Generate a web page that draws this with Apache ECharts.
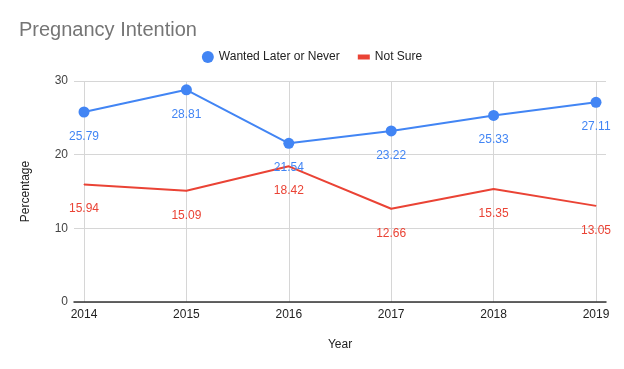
<!DOCTYPE html>
<html>
<head>
<meta charset="utf-8">
<script src="https://cdn.jsdelivr.net/npm/echarts@6/dist/echarts.min.js"></script>
<style>
html,body{margin:0;padding:0;background:#fff;}
#chart{width:624px;height:369px;}
</style>
</head>
<body>
<div id="chart"></div>
<script>
const years = ['2014', '2015', '2016', '2017', '2018', '2019'];
const wantedLater = [25.79, 28.81, 21.54, 23.22, 25.33, 27.11];
const notSure = [15.94, 15.09, 18.42, 12.66, 15.35, 13.05];
const yTicks = { min: 0, max: 30, interval: 10 };

const FONT = '"Liberation Sans", Arial, sans-serif';
const BLUE = '#4285F4';
const RED = '#EA4335';

const chart = echarts.init(document.getElementById('chart'), null, { renderer: 'canvas' });
chart.setOption({
  animation: false,
  textStyle: { fontFamily: FONT },
  title: {
    text: 'Pregnancy Intention',
    left: 14, top: 15,
    textStyle: { fontFamily: FONT, fontSize: 20, fontWeight: 'normal', color: '#757575' }
  },
  legend: {
    top: 46, left: 'center',
    itemWidth: 12, itemHeight: 12, itemGap: 18,
    textStyle: { fontFamily: FONT, fontSize: 12, color: '#222' },
    data: [
      { name: 'Wanted Later or Never', icon: 'circle' },
      { name: 'Not Sure', icon: 'path://M0,0h12v5h-12z' }
    ]
  },
  grid: [
    { left: 74, right: 18, top: 81, bottom: 67 },
    { left: 84, right: 28, top: 81, bottom: 67 }
  ],
  xAxis: [
    {
      gridIndex: 0, type: 'value', min: 0, max: 1,
      axisLine: { show: true, lineStyle: { color: '#333', width: 1.5 } },
      axisTick: { show: false }, axisLabel: { show: false }, splitLine: { show: false }
    },
    {
      gridIndex: 1, type: 'category', data: years, boundaryGap: false,
      axisLine: { show: false }, axisTick: { show: false },
      axisLabel: { color: '#222', fontSize: 12, margin: 7, fontFamily: FONT },
      splitLine: { show: true, lineStyle: { color: '#d6d6d6', width: 1 } },
      name: 'Year', nameLocation: 'middle', nameGap: 37,
      nameTextStyle: { color: '#222', fontSize: 12, fontFamily: FONT }
    }
  ],
  yAxis: [
    {
      gridIndex: 0, type: 'value', min: yTicks.min, max: yTicks.max, interval: yTicks.interval,
      axisLine: { show: false }, axisTick: { show: false },
      axisLabel: { color: '#444', fontSize: 12, margin: 6, fontFamily: FONT },
      splitLine: { show: true, lineStyle: { color: '#d6d6d6', width: 1 } },
      name: 'Percentage', nameLocation: 'middle', nameGap: 42,
      nameTextStyle: { color: '#222', fontSize: 12, fontFamily: FONT }
    },
    {
      gridIndex: 1, type: 'value', min: yTicks.min, max: yTicks.max, interval: yTicks.interval,
      show: false
    }
  ],
  series: [
    {
      name: 'Wanted Later or Never', type: 'line', xAxisIndex: 1, yAxisIndex: 1,
      data: wantedLater, symbol: 'circle', symbolSize: 11, showSymbol: true,
      lineStyle: { color: BLUE, width: 2 }, itemStyle: { color: BLUE },
      label: { show: true, position: 'bottom', distance: 13, color: BLUE, fontSize: 12, fontFamily: FONT }
    },
    {
      name: 'Not Sure', type: 'line', xAxisIndex: 1, yAxisIndex: 1,
      data: notSure, symbol: 'circle', symbolSize: 1, showSymbol: true,
      lineStyle: { color: RED, width: 2 }, itemStyle: { color: RED },
      label: { show: true, position: 'bottom', distance: 18, color: RED, fontSize: 12, fontFamily: FONT }
    }
  ]
});
</script>
</body>
</html>
